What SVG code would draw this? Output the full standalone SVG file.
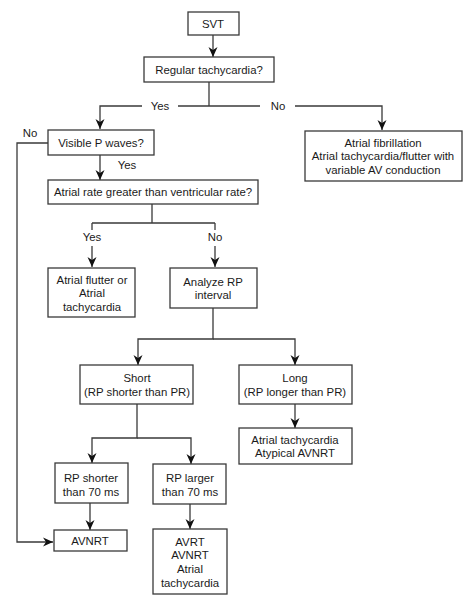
<svg xmlns="http://www.w3.org/2000/svg" width="474" height="603" viewBox="0 0 474 603">
<style>
.b{fill:#fff;stroke:#3a3a3a;stroke-width:1.3}
.c{fill:none;stroke:#3a3a3a;stroke-width:1.3}
text{font-family:"Liberation Sans",Arial,sans-serif;font-size:11.4px;fill:#1a1a1a;text-anchor:middle}
</style>
<defs>
<marker id="a" viewBox="0 0 10 12" refX="10" refY="6" markerWidth="10" markerHeight="12" markerUnits="userSpaceOnUse" orient="auto">
<path d="M0,1.5 L10,6 L0,10.5 L3,6 Z" fill="#111"/>
</marker>
</defs>
<rect width="474" height="603" fill="#fff"/>
<g id="connectors">
<path class="c" d="M213,35 V57" marker-end="url(#a)"/>
<path class="c" d="M209,82 V106"/>
<path class="c" d="M142,106 H100 V129" marker-end="url(#a)"/>
<path class="c" d="M178,106 H260"/>
<path class="c" d="M295,106 H382 V130" marker-end="url(#a)"/>
<path class="c" d="M48,143 H17 V542 H53" marker-end="url(#a)"/>
<path class="c" d="M100,155 V180" marker-end="url(#a)"/>
<path class="c" d="M152,204 V223 M92,223 H215 M92,223 V230 M215,223 V230"/>
<path class="c" d="M92,246 V267" marker-end="url(#a)"/>
<path class="c" d="M215,246 V267" marker-end="url(#a)"/>
<path class="c" d="M213,308 V339 H138 V365" marker-end="url(#a)"/>
<path class="c" d="M213,339 H295 V365" marker-end="url(#a)"/>
<path class="c" d="M295,404 V428" marker-end="url(#a)"/>
<path class="c" d="M137,404 V438 H92 V463" marker-end="url(#a)"/>
<path class="c" d="M137,438 H191 V464" marker-end="url(#a)"/>
<path class="c" d="M90,503 V530" marker-end="url(#a)"/>
<path class="c" d="M190,504 V529" marker-end="url(#a)"/>
<text x="160" y="110">Yes</text>
<text x="278" y="110">No</text>
<text x="30" y="137">No</text>
<text x="127" y="169">Yes</text>
<text x="92" y="241">Yes</text>
<text x="215" y="241">No</text>
</g>
<g id="svt"><rect class="b" x="188" y="12" width="51" height="23"/><text x="213" y="28">SVT</text></g>
<g id="regular"><rect class="b" x="144" y="57" width="130" height="25"/><text x="209" y="74">Regular tachycardia?</text></g>
<g id="visible"><rect class="b" x="48" y="130" width="106" height="25"/><text x="101" y="147">Visible P waves?</text></g>
<g id="afib"><rect class="b" x="305" y="131" width="157" height="50"/><text x="383" y="147">Atrial fibrillation</text><text x="383" y="160">Atrial tachycardia/flutter with</text><text x="383" y="174">variable AV conduction</text></g>
<g id="atrialrate"><rect class="b" x="48" y="180" width="210" height="24"/><text x="153" y="196">Atrial rate greater than ventricular rate?</text></g>
<g id="flutter"><rect class="b" x="48" y="268" width="87" height="49"/><text x="92" y="284">Atrial flutter or</text><text x="92" y="297">Atrial</text><text x="92" y="311">tachycardia</text></g>
<g id="analyze"><rect class="b" x="170" y="268" width="87" height="40"/><text x="213" y="286">Analyze RP</text><text x="213" y="299">interval</text></g>
<g id="short"><rect class="b" x="80" y="365" width="113" height="39"/><text x="137" y="382">Short</text><text x="137" y="396">(RP shorter than PR)</text></g>
<g id="long"><rect class="b" x="239" y="365" width="113" height="39"/><text x="295" y="382">Long</text><text x="295" y="396">(RP longer than PR)</text></g>
<g id="atachy"><rect class="b" x="239" y="428" width="113" height="36"/><text x="295" y="444">Atrial tachycardia</text><text x="295" y="457">Atypical AVNRT</text></g>
<g id="rpshorter"><rect class="b" x="55" y="463" width="73" height="40"/><text x="91" y="482">RP shorter</text><text x="91" y="496">than 70 ms</text></g>
<g id="rplarger"><rect class="b" x="153" y="464" width="73" height="40"/><text x="190" y="482">RP larger</text><text x="190" y="496">than 70 ms</text></g>
<g id="avnrt"><rect class="b" x="54" y="530" width="73" height="21"/><text x="90" y="545">AVNRT</text></g>
<g id="avrt"><rect class="b" x="153" y="529" width="74" height="65"/><text x="190" y="546">AVRT</text><text x="190" y="559">AVNRT</text><text x="190" y="573">Atrial</text><text x="190" y="587">tachycardia</text></g>
</svg>
